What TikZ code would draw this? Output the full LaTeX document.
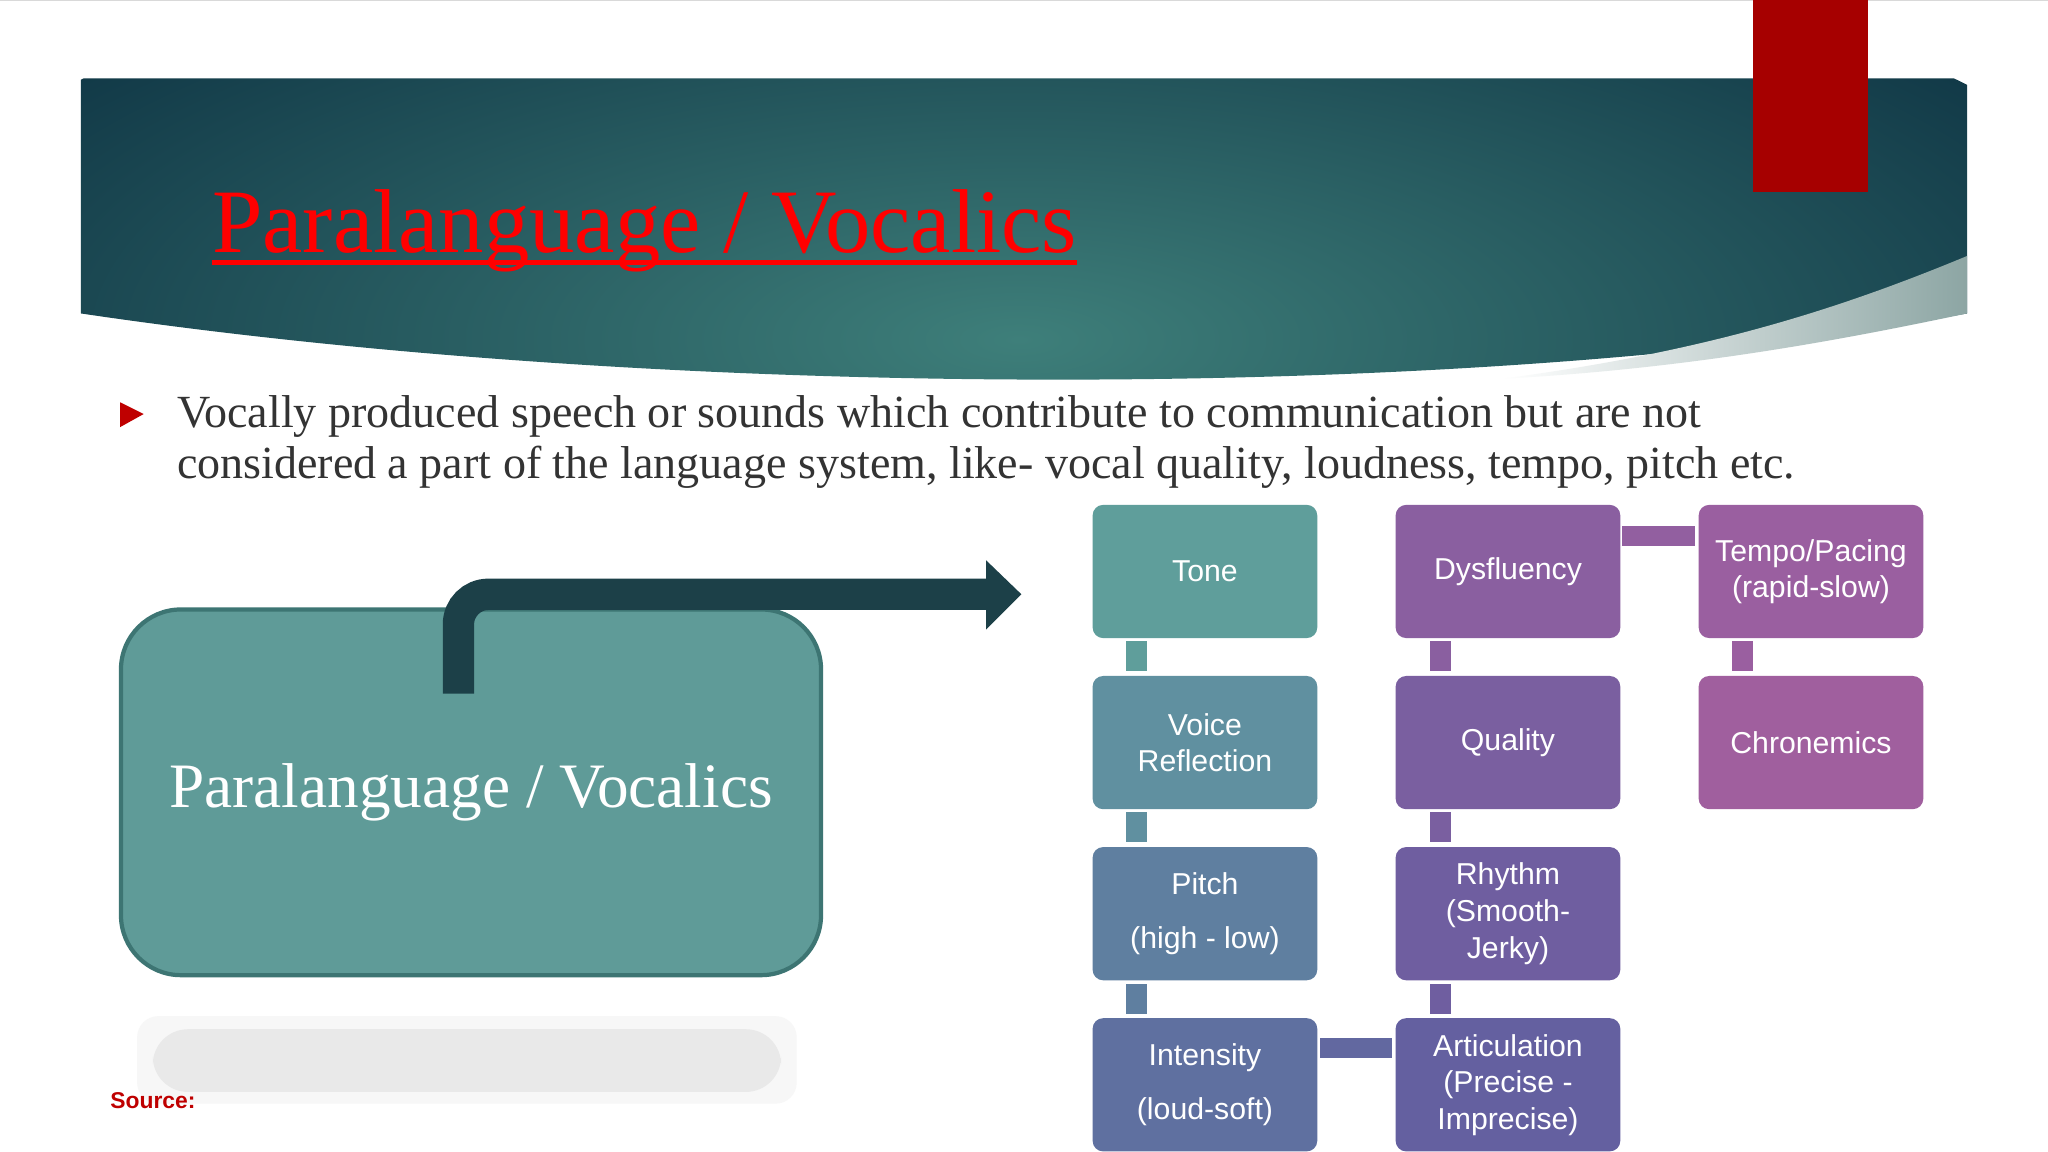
\documentclass[tikz,border=0pt]{standalone}
\usepackage{fontspec}
\setmainfont{Liberation Serif}
\newfontfamily\boxfont{Liberation Sans}
\usetikzlibrary{shapes.geometric,calc}
\definecolor{hdark}{HTML}{123A48}
\definecolor{hlight}{HTML}{3E7F7A}
\definecolor{arrowc}{HTML}{1C4048}
\tikzset{
 gbox/.style={draw=none,rounded corners=3pt,minimum width=172*0.01306cm,minimum height=102*0.01306cm,text=white,align=center,font=\boxfont\fontsize{8.6}{10.4}\selectfont,anchor=north west,inner sep=1pt},
}
\begin{document}
\begin{tikzpicture}[x=0.01306cm,y=-0.01306cm]
\useasboundingbox (0,0) rectangle (1568,882);
\fill[white] (0,0) rectangle (1568,882);
\draw[gray!30] (0,0.5) -- (1568,0.5);
% header
\begin{scope}
\clip (62,60) -- (1506,60) -- (1506,240) .. controls (1100,310) and (500,305) .. (62,240) -- cycle;
\shade[inner color=hlight,outer color=hdark] (780,260) ellipse (900 and 330);
\end{scope}
\shade[left color=white,right color=hlight!55!gray!70] (1506,196) .. controls (1400,240) and (1300,270) .. (1150,290) .. controls (1300,282) and (1420,258) .. (1506,240) -- cycle;
\fill[red!65!black] (1342,0) rectangle (1430,147);
\node (title) [anchor=base west,text=red,font=\fontsize{25.8}{30}\selectfont,inner sep=0] at (162,193) {Paralanguage / Vocalics};
\draw[red,line width=1.4pt] ($(title.base west)+(0,8)$) -- ($(title.base east)+(0,8)$);
% bullet
\fill[red!75!black] (92,308) -- (110,317) -- (92,327) -- cycle;
\node (body) [anchor=north west,align=left,text=black!80,font=\fontsize{13.1}{14.6}\selectfont,inner sep=0] at (135,302) {Vocally produced speech or sounds which contribute to communication but are not\\considered a part of the language system, like- vocal quality, loudness, tempo, pitch etc.};
% big box
\node (big) [draw={rgb,255:red,61;green,117;blue,115},line width=1.2pt,fill={rgb,255:red,95;green,155;blue,152},rounded corners=0.6cm,minimum width=536*0.01306cm,minimum height=280*0.01306cm,anchor=north west,text=white,font=\fontsize{18}{22}\selectfont] at (91,465) {Paralanguage / Vocalics};
% arrow
\coordinate (a0) at (351,531);
\coordinate (a1) at (757,455);
\draw[arrowc,line width=24*0.01306cm,rounded corners=0.3cm] (a0) -- (351,455) -- (a1);
\fill[arrowc] (755,429) -- (782,455) -- (755,482) -- cycle;
% grid
\node[gbox,fill={rgb,255:red,95;green,158;blue,155}] (tone) at (836,386) {Tone};
\node[gbox,fill={rgb,255:red,96;green,144;blue,160}] (voice) at (836,517) {Voice\\Reflection};
\node[gbox,fill={rgb,255:red,95;green,127;blue,160}] (pitch) at (836,648) {Pitch\\[5pt](high - low)};
\node[gbox,fill={rgb,255:red,95;green,112;blue,160}] (inten) at (836,779) {Intensity\\[5pt](loud-soft)};
\node[gbox,fill={rgb,255:red,138;green,95;blue,160}] (dys) at (1068,386) {Dysfluency};
\node[gbox,fill={rgb,255:red,122;green,95;blue,160}] (qual) at (1068,517) {Quality};
\node[gbox,fill={rgb,255:red,111;green,94;blue,160}] (rhy) at (1068,648) {Rhythm\\(Smooth-\\Jerky)};
\node[gbox,fill={rgb,255:red,100;green,96;blue,160}] (art) at (1068,779) {Articulation\\(Precise -\\Imprecise)};
\node[gbox,fill={rgb,255:red,154;green,95;blue,160}] (tempo) at (1300,386) {Tempo/Pacing\\(rapid-slow)};
\node[gbox,fill={rgb,255:red,160;green,95;blue,158}] (chron) at (1300,517) {Chronemics};
% links
\fill[fill={rgb,255:red,95;green,158;blue,155}] (862,491) rectangle (878,514);
\fill[fill={rgb,255:red,96;green,144;blue,160}] (862,622) rectangle (878,645);
\fill[fill={rgb,255:red,95;green,127;blue,160}] (862,753) rectangle (878,776);
\fill[fill={rgb,255:red,138;green,95;blue,160}] (1095,491) rectangle (1111,514);
\fill[fill={rgb,255:red,122;green,95;blue,160}] (1095,622) rectangle (1111,645);
\fill[fill={rgb,255:red,111;green,94;blue,160}] (1095,753) rectangle (1111,776);
\fill[fill={rgb,255:red,154;green,95;blue,160}] (1326,491) rectangle (1342,514);
\fill[fill={rgb,255:red,146;green,95;blue,160}] (1242,403) rectangle (1298,418);
\fill[fill={rgb,255:red,98;green,104;blue,160}] (1011,795) rectangle (1066,810);
% source
\fill[gray!6,rounded corners=6pt] (105,778) rectangle (610,845);
\fill[gray!17,rounded corners=10pt] (117,788) rectangle (598,836);
\node (src) [anchor=west,text=red!75!black,font=\boxfont\bfseries\fontsize{6.5}{8}\selectfont,inner sep=0] at (84,843) {Source:};
\end{tikzpicture}
\end{document}
